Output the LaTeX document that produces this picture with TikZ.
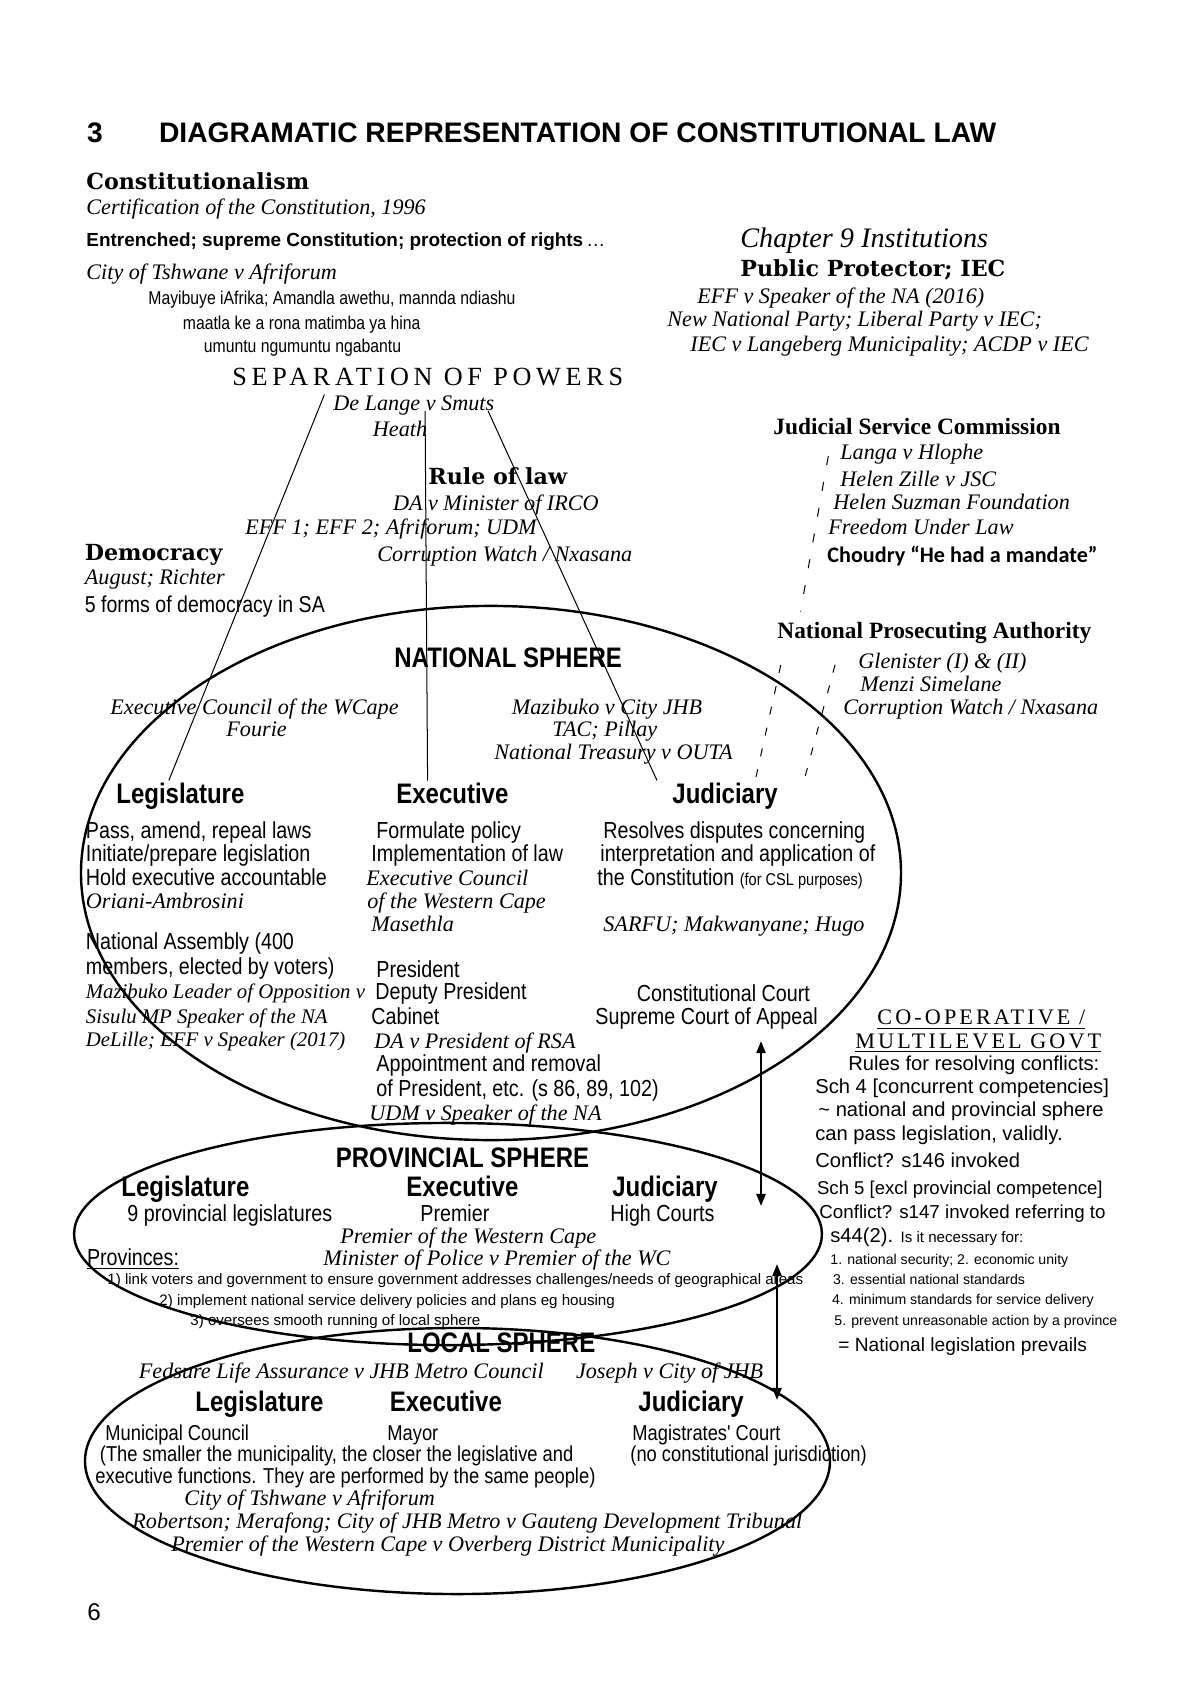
\documentclass[tikz,border=0pt]{standalone}
\usepackage{fontspec}
\setmainfont{Liberation Serif}
\setsansfont{Liberation Sans}
\newfontfamily\narrowfont{Liberation Sans}[FakeStretch=0.85]
\newfontfamily\slabfont{DejaVu Serif}
\newfontfamily\calfont{Carlito}
\usetikzlibrary{calc,arrows.meta}

\newcommand{\casefont}{\fontsize{11}{13}\selectfont\itshape}
\newcommand{\smallcase}{\fontsize{10.3}{13}\selectfont\itshape}
\newcommand{\bodyfont}{\fontsize{11.5}{13}\narrowfont}
\newcommand{\localfont}{\fontsize{10.7}{13}\narrowfont}
\newcommand{\headfont}{\fontsize{14}{16}\narrowfont\bfseries}
\newcommand{\slabhead}{\fontsize{11}{13}\slabfont\bfseries}
\newcommand{\instfont}{\fontsize{11.6}{13}\selectfont\bfseries}
\newcommand{\capsfont}{\fontsize{13}{15}\selectfont\addfontfeature{LetterSpace=18}}
\newcommand{\coopfont}{\fontsize{11}{13}\selectfont\addfontfeature{LetterSpace=14}}
\newcommand{\titlefont}{\fontsize{14}{16}\sffamily\bfseries}
\newcommand{\mottofont}{\fontsize{9.2}{11}\narrowfont}
\newcommand{\chapfont}{\fontsize{14}{16}\selectfont\itshape}

\begin{document}
\begin{tikzpicture}[x=0.4961pt,y=-0.4961pt,
  txt/.style={inner sep=0pt, anchor=west, yshift=-1.5pt, execute at begin node=\strut},
  case/.style={txt, font=\casefont},
  body/.style={txt, font=\bodyfont},
  localtxt/.style={txt, font=\localfont},
  headtxt/.style={txt, font=\headfont},
  slabtxt/.style={txt, font=\slabhead},
  ruletxt/.style={txt, font=\fontsize{10}{12}\sffamily},
  smalltxt/.style={txt, font=\fontsize{7}{8}\sffamily},
  provtxt/.style={txt, font=\fontsize{7.5}{9}\sffamily},
  sphere/.style={draw, line width=1.2pt},
  powerline/.style={draw, line width=0.5pt},
  jscdash/.style={line width=0.5pt, dash pattern=on 4.5pt off 8.5pt},
  npadash/.style={line width=0.5pt, dash pattern=on 4pt off 6.6pt},
  biarrow/.style={line width=1.1pt, arrows={Triangle[length=6pt,width=4.5pt]-Triangle[length=6pt,width=4.5pt]}}]
\useasboundingbox (0,0) rectangle (1200,1696);

% heading
\node[txt, font=\titlefont] (secno) at (86.8,133) {3};
\node[txt, font=\titlefont] (title) at (158.7,133) {DIAGRAMATIC REPRESENTATION OF CONSTITUTIONAL LAW};

% constitutionalism
\node[slabtxt] (const) at (86,181.7) {Constitutionalism};
\node[case] (cert) at (86,206.7) {Certification of the Constitution, 1996};
\node[txt, font=\fontsize{9.4}{11}\sffamily\bfseries] (entr) at (86,239) {Entrenched; supreme Constitution; protection of rights{\mdseries\,\ldots}};
\node[case] (tshw) at (86,271) {City of Tshwane v Afriforum};
\node[txt, font=\mottofont] (motto1) at (148,296.7) {Mayibuye iAfrika; Amandla awethu, mannda ndiashu};
\node[txt, font=\mottofont] (motto2) at (182.5,321.7) {maatla ke a rona matimba ya hina};
\node[txt, font=\mottofont] (motto3) at (203.5,345) {umuntu ngumuntu ngabantu};

% chapter 9 institutions
\node[txt, font=\chapfont] (ch9) at (740,238) {Chapter 9 Institutions};
\node[slabtxt] (pubprot) at (740,268) {Public Protector; IEC};
\node[case] (effna) at (697,295) {EFF v Speaker of the NA (2016)};
\node[case] (nnp) at (667,318) {New National Party; Liberal Party v IEC;};
\node[case] (iecl) at (690,343) {IEC v Langeberg Municipality; ACDP v IEC};

% separation of powers, rule of law
\node[txt, font=\capsfont] (sop) at (232,376) {SEPARATION OF POWERS};
\node[case] (dls) at (333,402.7) {De Lange v Smuts};
\node[case] (heath) at (372.5,428) {Heath};
\node[slabtxt] (rol) at (428,476.7) {Rule of law};
\node[case] (irco) at (392.6,502.7) {DA v Minister of IRCO};
\node[case] (effs) at (245,526) {EFF 1; EFF 2; Afriforum; UDM};
\node[case] (cwatch) at (377,553) {Corruption Watch / Nxasana};

% democracy
\node[slabtxt] (demo) at (84.5,552.7) {Democracy};
\node[case] (aug) at (84.5,576.7) {August; Richter};
\node[txt, font=\fontsize{11.4}{13}\narrowfont] (forms) at (84.5,604) {5 forms of democracy in SA};

% JSC and NPA
\node[txt, font=\instfont] (jsc) at (773,426.7) {Judicial Service Commission};
\node[case] (langa) at (840,451.7) {Langa v Hlophe};
\node[case] (zille) at (840,478) {Helen Zille v JSC};
\node[case] (suzman) at (833,501.7) {Helen Suzman Foundation};
\node[case] (fulaw) at (828,526) {Freedom Under Law};
\node[txt, font=\fontsize{11}{13}\calfont\bfseries] (choud) at (827,554) {Choudry “He had a mandate”};
\node[txt, font=\instfont] (npa) at (777,630) {National Prosecuting Authority};
\node[case] (glen) at (858,660) {Glenister (I) \& (II)};
\node[case] (menzi) at (860,683) {Menzi Simelane};
\node[case] (cwatch2) at (843,706.7) {Corruption Watch / Nxasana};

% national sphere
\node[headtxt] (natS) at (394,658) {NATIONAL SPHERE};
\node[case] (ecwc) at (110,706.7) {Executive Council of the WCape};
\node[case] (fourie) at (226,728) {Fourie};
\node[case] (mazi) at (511.5,706.7) {Mazibuko v City JHB};
\node[case] (tac) at (552,728) {TAC; Pillay};
\node[case] (outa) at (494,751.7) {National Treasury v OUTA};
\node[headtxt] (natLeg) at (116,794) {Legislature};
\node[headtxt] (natExe) at (396,794) {Executive};
\node[headtxt] (natJud) at (672,794) {Judiciary};

\node[body] (leg1) at (85.5,830.7) {Pass, amend, repeal laws};
\node[body] (leg2) at (85.5,853) {Initiate/prepare legislation};
\node[body] (leg3) at (85.5,877) {Hold executive accountable};
\node[case] (leg4) at (85.5,900) {Oriani-Ambrosini};
\node[body] (leg5) at (85.5,941.7) {National Assembly (400};
\node[body] (leg6) at (85.5,966.7) {members, elected by voters)};
\node[case, font=\smallcase] (leg7) at (85.5,990) {Mazibuko Leader of Opposition v};
\node[case, font=\smallcase] (leg8) at (85.5,1015) {Sisulu MP Speaker of the NA};
\node[case, font=\smallcase] (leg9) at (85.5,1038) {DeLille; EFF v Speaker (2017)};

\node[body] (exe1) at (376,830.7) {Formulate policy};
\node[body] (exe2) at (371,853) {Implementation of law};
\node[case] (exe3) at (366,877) {Executive Council};
\node[case] (exe4) at (367,900) {of the Western Cape};
\node[case] (exe5) at (371,923) {Masethla};
\node[body] (exe6) at (376,969) {President};
\node[body] (exe7) at (375,991.7) {Deputy President};
\node[body] (exe8) at (371,1016.7) {Cabinet};
\node[case] (exe9) at (374,1040.7) {DA v President of RSA};
\node[body] (exe10) at (376,1063) {Appointment and removal};
\node[body] (exe11) at (376,1088) {of President, etc. (s 86, 89, 102)};
\node[case] (exe12) at (369,1112.7) {UDM v Speaker of the NA};

\node[body] (jud1) at (603,830.7) {Resolves disputes concerning};
\node[body] (jud2) at (600,853) {interpretation and application of};
\node[body] (jud3) at (597,877) {the Constitution {\fontsize{8.5}{10}\selectfont(for CSL purposes)}};
\node[case] (jud4) at (603,923) {SARFU; Makwanyane; Hugo};
\node[body] (jud5) at (636.5,993) {Constitutional Court};
\node[body] (jud6) at (595,1016.7) {Supreme Court of Appeal};

% co-operative government
\node[txt, font=\coopfont] (coop1) at (877,1016.7) {\underline{CO-OPERATIVE /}};
\node[txt, font=\coopfont] (coop2) at (855,1040) {\underline{MULTILEVEL GOVT}};
\node[ruletxt] (rules) at (848,1062.7) {Rules for resolving conflicts:};
\node[ruletxt] (sch4) at (815,1086) {Sch 4 [concurrent competencies]};
\node[ruletxt] (natprov) at (818,1109) {\textasciitilde{} national and provincial sphere};
\node[ruletxt] (canpass) at (815,1132.7) {can pass legislation, validly.};
\node[ruletxt] (s146) at (815,1160) {Conflict? s146 invoked};
\node[ruletxt, font=\fontsize{9.2}{12}\sffamily] (sch5) at (816.7,1187) {Sch 5 [excl provincial competence]};
\node[ruletxt, font=\fontsize{9.3}{12}\sffamily] (s147) at (819,1210.7) {Conflict? s147 invoked referring to};
\node[ruletxt] (s44) at (830,1235) {s44(2). {\fontsize{7.5}{9}\selectfont Is it necessary for:}};
\node[smalltxt] (nec1) at (830,1258) {1. national security; 2. economic unity};
\node[smalltxt] (nec3) at (832.7,1278) {3. essential national standards};
\node[smalltxt] (nec4) at (831.7,1298) {4. minimum standards for service delivery};
\node[smalltxt] (nec5) at (834,1319) {5. prevent unreasonable action by a province};
\node[ruletxt, font=\fontsize{9.5}{12}\sffamily] (prevail) at (838,1344) {= National legislation prevails};

% provincial sphere
\node[headtxt] (provS) at (335.5,1158) {PROVINCIAL SPHERE};
\node[headtxt] (provLeg) at (121,1186.7) {Legislature};
\node[headtxt] (provExe) at (406,1186.7) {Executive};
\node[headtxt] (provJud) at (612,1186.7) {Judiciary};
\node[body] (provL1) at (127,1213) {9 provincial legislatures};
\node[body] (provE1) at (420,1213) {Premier};
\node[body] (provJ1) at (610,1213) {High Courts};
\node[case] (pwc) at (340,1235) {Premier of the Western Cape};
\node[body] (provinces) at (86.6,1257) {\underline{Provinces:}};
\node[case] (mpol) at (323,1257) {Minister of Police v Premier of the WC};
\node[provtxt] (prov1) at (107,1278) {1) link voters and government to ensure government addresses challenges/needs of geographical areas};
\node[provtxt] (prov2) at (159,1298.5) {2) implement national service delivery policies and plans eg housing};
\node[provtxt] (prov3) at (190,1319) {3) oversees smooth running of local sphere};

% local sphere
\node[headtxt] (locS) at (407,1343) {LOCAL SPHERE};
\node[case] (fedsure) at (138.5,1370) {Fedsure Life Assurance v JHB Metro Council};
\node[case] (joseph) at (575.6,1370) {Joseph v City of JHB};
\node[headtxt] (locLeg) at (195,1402) {Legislature};
\node[headtxt] (locExe) at (389.5,1402) {Executive};
\node[headtxt] (locJud) at (638,1402) {Judiciary};
\node[localtxt] (loc1) at (105,1432.6) {Municipal Council};
\node[localtxt] (loc2) at (387,1432.6) {Mayor};
\node[localtxt] (loc3) at (632,1432.6) {Magistrates' Court};
\node[localtxt] (loc4) at (99.5,1453) {(The smaller the municipality, the closer the legislative and};
\node[localtxt] (loc5) at (630,1453) {(no constitutional jurisdiction)};
\node[localtxt] (loc6) at (95,1475) {executive functions. They are performed by the same people)};
\node[case] (loc7) at (184,1497.5) {City of Tshwane v Afriforum};
\node[case] (loc8) at (132,1520) {Robertson; Merafong; City of JHB Metro v Gauteng Development Tribunal};
\node[case] (loc9) at (171,1543) {Premier of the Western Cape v Overberg District Municipality};

\node[txt, font=\fontsize{12}{14}\sffamily] (pageno) at (87,1612) {6};

% spheres
\draw[sphere] (491,873) ellipse [x radius=203.4pt, y radius=132.5pt];
\draw[sphere] (448,1234) ellipse [x radius=185.5pt, y radius=55.1pt];
\draw[sphere] (457.5,1461) ellipse [x radius=184.8pt, y radius=66pt];

% separation of powers lines
\draw[powerline] ($(sop.south west)!.236!(sop.south east)$) -- ($(natLeg.north west)!.41!(natLeg.north east)$);
\draw[powerline] ($(dls.base west)!.57!(dls.base east)$) -- ($(natExe.north west)!.28!(natExe.north east)$);
\draw[powerline] ($(dls.base west)!.96!(dls.base east)$) -- ($(natJud.north west)+(-15,0)$);

% JSC and NPA
\coordinate (npaL) at (756,777);
\coordinate (npaR) at (805,777);
\draw[jscdash, shorten <=6.5pt, shorten >=4pt] ($(jsc.south west)!.2!(jsc.south east)$) -- ($(npa.north west)!.07!(npa.north east)$);
\draw[npadash, shorten <=9.4pt] ($(npa.south west)!.025!(npa.south east)$) -- (npaL);
\draw[npadash, shorten <=9.4pt] ($(npa.south west)!.2!(npa.south east)$) -- (npaR);

% spheres linked
\coordinate (natArr) at (761,1041);
\coordinate (provArr) at (761,1206);
\coordinate (provArr2) at (777,1264);
\coordinate (locArr) at (777,1400);
\draw[biarrow] (natArr) -- (provArr);
\draw[biarrow] (provArr2) -- (locArr);
\end{tikzpicture}
\end{document}
